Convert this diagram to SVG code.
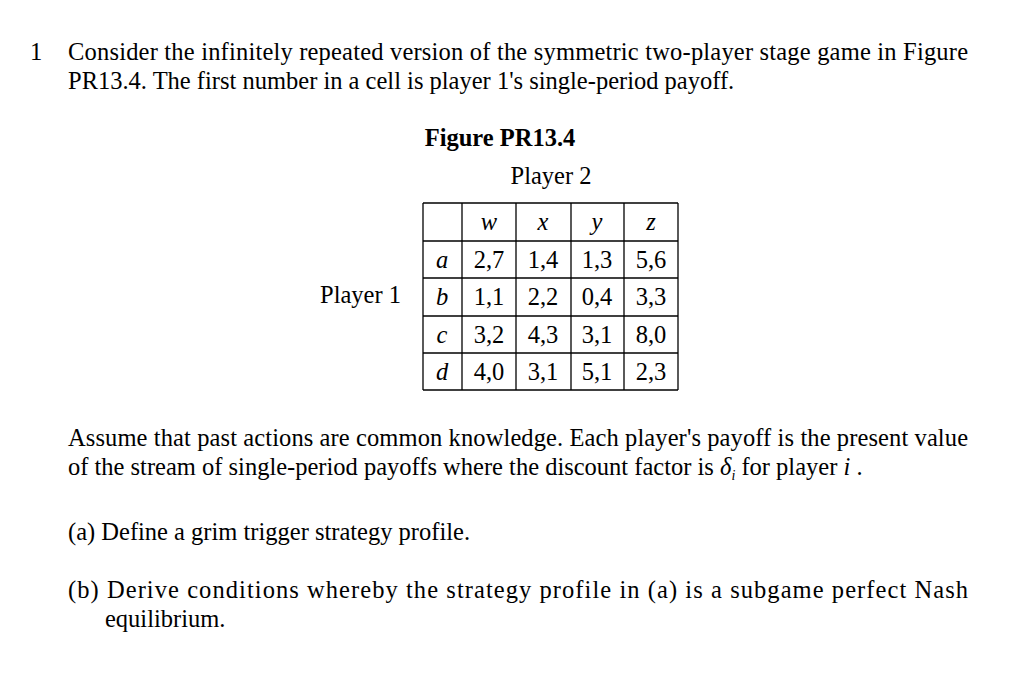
<svg xmlns="http://www.w3.org/2000/svg" width="1024" height="700" viewBox="0 0 1024 700">
<style>
text{font-family:"Liberation Serif",serif;font-size:24.5px;fill:#000}
.i{font-style:italic}
.c{text-anchor:middle}
line{stroke:#000;stroke-width:1.3}
</style>
<rect width="1024" height="700" fill="#fff"/>
<text x="30" y="60">1</text>
<text x="68" y="60" textLength="900" lengthAdjust="spacing">Consider the infinitely repeated version of the symmetric two-player stage game in Figure</text>
<text x="68" y="89">PR13.4. The first number in a cell is player 1's single-period payoff.</text>
<text x="500" y="146" class="c" font-weight="bold">Figure PR13.4</text>
<text x="551" y="184" class="c">Player 2</text>
<text x="320" y="303">Player 1</text>
<g id="table">
<line x1="423" y1="203" x2="678" y2="203"/>
<line x1="423" y1="241" x2="678" y2="241"/>
<line x1="423" y1="278" x2="678" y2="278"/>
<line x1="423" y1="316" x2="678" y2="316"/>
<line x1="423" y1="353" x2="678" y2="353"/>
<line x1="423" y1="390" x2="678" y2="390"/>
<line x1="423" y1="203" x2="423" y2="390"/>
<line x1="462" y1="203" x2="462" y2="390"/>
<line x1="516" y1="203" x2="516" y2="390"/>
<line x1="571" y1="203" x2="571" y2="390"/>
<line x1="624" y1="203" x2="624" y2="390"/>
<line x1="678" y1="203" x2="678" y2="390"/>
<text x="489" y="230" class="c i">w</text><text x="543" y="230" class="c i">x</text><text x="597" y="230" class="c i">y</text><text x="651" y="230" class="c i">z</text>
<text x="442" y="268" class="c i">a</text><text x="489" y="268" class="c">2,7</text><text x="543" y="268" class="c">1,4</text><text x="597" y="268" class="c">1,3</text><text x="651" y="268" class="c">5,6</text>
<text x="442" y="305" class="c i">b</text><text x="489" y="305" class="c">1,1</text><text x="543" y="305" class="c">2,2</text><text x="597" y="305" class="c">0,4</text><text x="651" y="305" class="c">3,3</text>
<text x="442" y="343" class="c i">c</text><text x="489" y="343" class="c">3,2</text><text x="543" y="343" class="c">4,3</text><text x="597" y="343" class="c">3,1</text><text x="651" y="343" class="c">8,0</text>
<text x="442" y="380" class="c i">d</text><text x="489" y="380" class="c">4,0</text><text x="543" y="380" class="c">3,1</text><text x="597" y="380" class="c">5,1</text><text x="651" y="380" class="c">2,3</text>
</g>
<text x="68" y="446" textLength="900" lengthAdjust="spacing">Assume that past actions are common knowledge. Each player's payoff is the present value</text>
<text x="68" y="475">of the stream of single-period payoffs where the discount factor is <tspan class="i">δ</tspan><tspan class="i" font-size="14" dy="5">i</tspan><tspan dy="-5"> for player </tspan><tspan class="i">i</tspan> .</text>
<text x="68" y="540">(a) Define a grim trigger strategy profile.</text>
<text x="68" y="598" textLength="900" lengthAdjust="spacing">(b) Derive conditions whereby the strategy profile in (a) is a subgame perfect Nash</text>
<text x="105" y="627">equilibrium.</text>
</svg>
